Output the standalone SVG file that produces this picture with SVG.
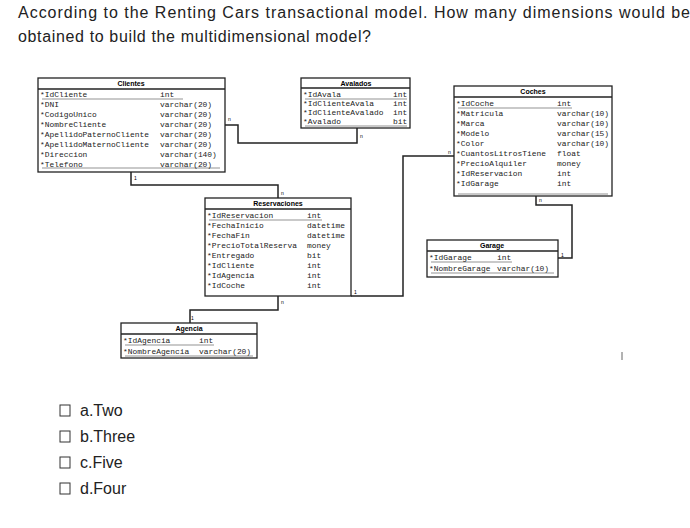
<svg xmlns="http://www.w3.org/2000/svg" width="690" height="528" viewBox="0 0 690 528">
<style>
.q{font-family:"Liberation Sans",Arial,sans-serif;font-size:16px;fill:#222}
.h{font-family:"Liberation Sans",Arial,sans-serif;font-size:7px;font-weight:bold;text-anchor:middle}
.f{font-family:"Liberation Mono","Courier New",monospace;font-size:7.9px;fill:#222}
.c{font-family:"Liberation Sans",Arial,sans-serif;font-size:5px}
.box{fill:#fff;stroke:#222;stroke-width:1.3}
.u{stroke:#666;stroke-width:0.7}
.ln{fill:none;stroke:#222;stroke-width:1.5}
.cb{fill:#fff;stroke:#333;stroke-width:1}
</style>
<rect width="690" height="528" fill="#fff"/>
<text class="q" x="18" y="18" textLength="672" lengthAdjust="spacing">According to the Renting Cars transactional model. How many dimensions would be</text>
<text class="q" x="18" y="42" textLength="353" lengthAdjust="spacing">obtained to build the multidimensional model?</text>

<g id="connectors">
<path class="ln" d="M225,125H238V143H357V128"/>
<path class="ln" d="M131,172V185H278V198"/>
<path class="ln" d="M351,296H403V156H454"/>
<path class="ln" d="M536,196V205H572V258H558"/>
<path class="ln" d="M278,296V310H190V323"/>
<text class="c" x="228" y="121">n</text><text class="c" x="360" y="138">n</text>
<text class="c" x="134" y="180">1</text><text class="c" x="281" y="195">n</text>
<text class="c" x="354" y="294">1</text><text class="c" x="448" y="154">n</text>
<text class="c" x="539" y="202">n</text><text class="c" x="561" y="257">1</text>
<text class="c" x="281" y="304">n</text><text class="c" x="191" y="320">1</text>
</g>

<g id="clientes">
<rect class="box" x="38" y="78" width="187" height="94"/><line class="box" x1="38" y1="89" x2="225" y2="89"/>
<text class="h" x="131" y="86">Clientes</text>
<line class="u" x1="42" y1="99" x2="183" y2="99"/>
<line class="u" x1="42" y1="168" x2="220" y2="168"/>
<g class="f">
<text x="40" y="97">*IdCliente</text><text x="160" y="97">int</text>
<text x="40" y="107">*DNI</text><text x="160" y="107">varchar(20)</text>
<text x="40" y="117">*CodigoUnico</text><text x="160" y="117">varchar(20)</text>
<text x="40" y="127">*NombreCliente</text><text x="160" y="127">varchar(20)</text>
<text x="40" y="137">*ApellidoPaternoCliente</text><text x="160" y="137">varchar(20)</text>
<text x="40" y="147">*ApellidoMaternoCliente</text><text x="160" y="147">varchar(20)</text>
<text x="40" y="157">*Direccion</text><text x="160" y="157">varchar(140)</text>
<text x="40" y="167">*Telefono</text><text x="160" y="167">varchar(20)</text>
</g>
</g>

<g id="avalados">
<rect class="box" x="301" y="78" width="109" height="50"/><line class="box" x1="301" y1="88" x2="410" y2="88"/>
<text class="h" x="356" y="86">Avalados</text>
<line class="u" x1="305" y1="99" x2="407" y2="99"/>
<line class="u" x1="305" y1="126" x2="407" y2="126"/>
<g class="f">
<text x="303" y="97">*IdAvala</text><text x="393" y="97">int</text>
<text x="303" y="106">*IdClienteAvala</text><text x="393" y="106">int</text>
<text x="303" y="115">*IdClienteAvalado</text><text x="393" y="115">int</text>
<text x="303" y="124">*Avalado</text><text x="393" y="124">bit</text>
</g>
</g>

<g id="coches">
<rect class="box" x="454" y="86" width="158" height="110"/><line class="box" x1="454" y1="97" x2="612" y2="97"/>
<text class="h" x="533" y="94">Coches</text>
<line class="u" x1="458" y1="108" x2="572" y2="108"/>
<line class="u" x1="458" y1="194" x2="608" y2="194"/>
<g class="f">
<text x="456" y="106">*IdCoche</text><text x="557" y="106">int</text>
<text x="456" y="116">*Matricula</text><text x="557" y="116">varchar(10)</text>
<text x="456" y="126">*Marca</text><text x="557" y="126">varchar(10)</text>
<text x="456" y="136">*Modelo</text><text x="557" y="136">varchar(15)</text>
<text x="456" y="146">*Color</text><text x="557" y="146">varchar(10)</text>
<text x="456" y="156">*CuantosLitrosTiene</text><text x="557" y="156">float</text>
<text x="456" y="166">*PrecioAlquiler</text><text x="557" y="166">money</text>
<text x="456" y="176">*IdReservacion</text><text x="557" y="176">int</text>
<text x="456" y="186">*IdGarage</text><text x="557" y="186">int</text>
</g>
</g>

<g id="reservaciones">
<rect class="box" x="205" y="198" width="146" height="98"/><line class="box" x1="205" y1="209" x2="351" y2="209"/>
<text class="h" x="278" y="206">Reservaciones</text>
<line class="u" x1="209" y1="220" x2="322" y2="220"/>
<g class="f">
<text x="207" y="218">*IdReservacion</text><text x="307" y="218">int</text>
<text x="207" y="228">*FechaInicio</text><text x="307" y="228">datetime</text>
<text x="207" y="238">*FechaFin</text><text x="307" y="238">datetime</text>
<text x="207" y="248">*PrecioTotalReserva</text><text x="307" y="248">money</text>
<text x="207" y="258">*Entregado</text><text x="307" y="258">bit</text>
<text x="207" y="268">*IdCliente</text><text x="307" y="268">int</text>
<text x="207" y="278">*IdAgencia</text><text x="307" y="278">int</text>
<text x="207" y="288">*IdCoche</text><text x="307" y="288">int</text>
</g>
</g>

<g id="garage">
<rect class="box" x="427" y="240" width="131" height="37"/><line class="box" x1="427" y1="251" x2="558" y2="251"/>
<text class="h" x="492" y="248">Garage</text>
<line class="u" x1="431" y1="262" x2="512" y2="262"/>
<line class="u" x1="431" y1="273" x2="554" y2="273"/>
<g class="f">
<text x="429" y="260">*IdGarage</text><text x="497" y="260">int</text>
<text x="429" y="271">*NombreGarage</text><text x="497" y="271">varchar(10)</text>
</g>
</g>

<g id="agencia">
<rect class="box" x="121" y="323" width="136" height="35"/><line class="box" x1="121" y1="334" x2="257" y2="334"/>
<text class="h" x="189" y="331">Agencia</text>
<line class="u" x1="125" y1="345" x2="214" y2="345"/>
<line class="u" x1="125" y1="356" x2="253" y2="356"/>
<g class="f">
<text x="123" y="343">*IdAgencia</text><text x="199" y="343">int</text>
<text x="123" y="354">*NombreAgencia</text><text x="199" y="354">varchar(20)</text>
</g>
</g>

<line x1="622" y1="352" x2="622" y2="360" stroke="#666" stroke-width="1"/>

<g id="options">
<rect class="cb" x="60" y="405" width="10" height="11"/><text class="q" x="80" y="416">a.Two</text>
<rect class="cb" x="60" y="431" width="10" height="11"/><text class="q" x="80" y="442">b.Three</text>
<rect class="cb" x="60" y="457" width="10" height="11"/><text class="q" x="80" y="468">c.Five</text>
<rect class="cb" x="60" y="483" width="10" height="11"/><text class="q" x="80" y="494">d.Four</text>
</g>
</svg>
